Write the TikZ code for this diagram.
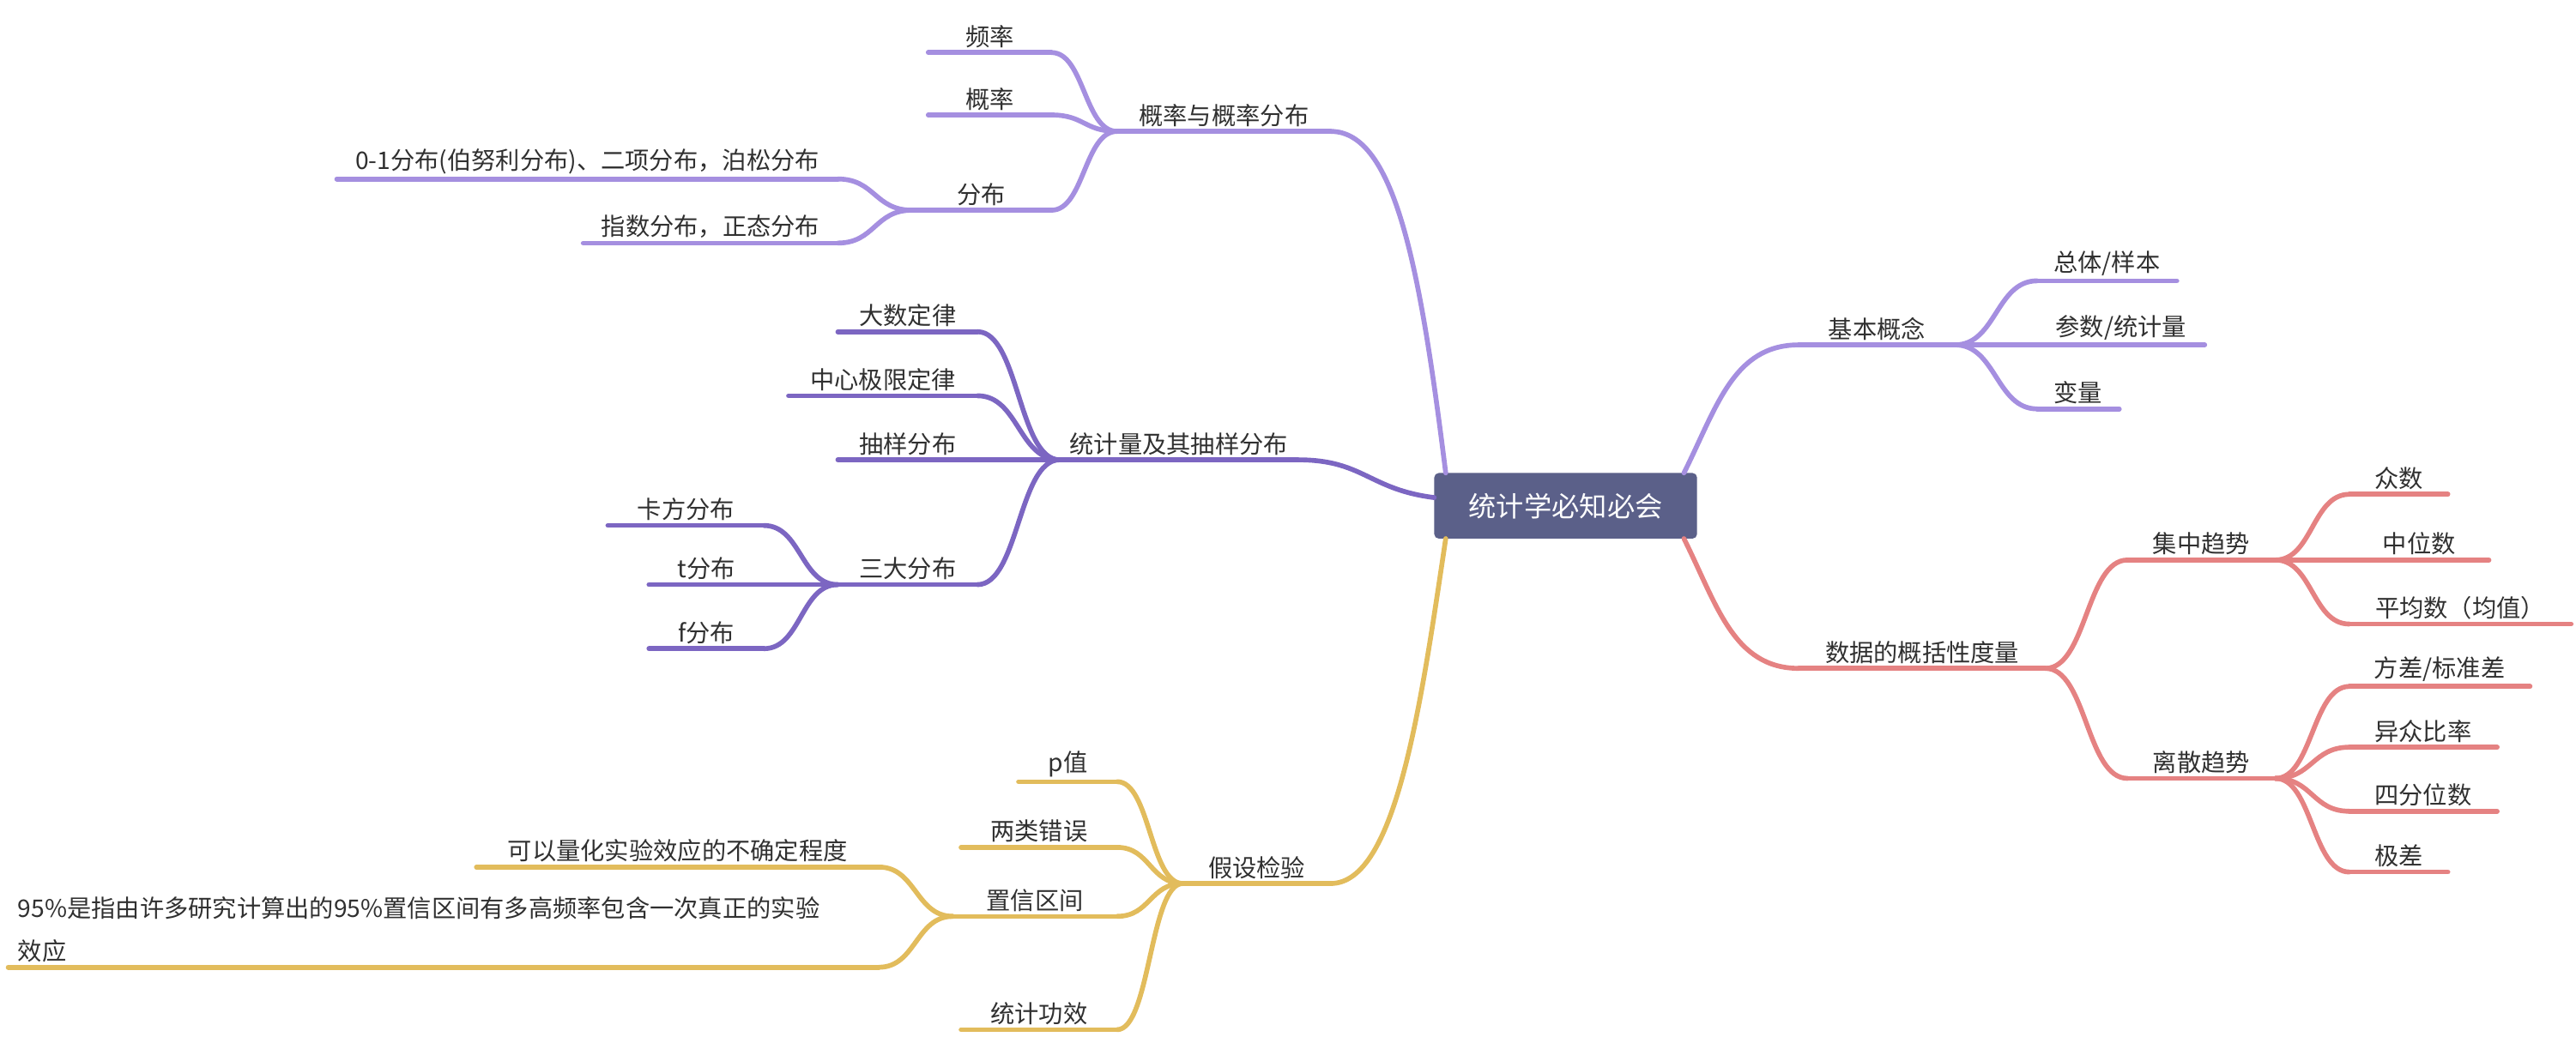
\documentclass[tikz,border=0pt]{standalone}
\usepackage{fontspec}
\setmainfont{Noto Sans CJK SC}
\usetikzlibrary{calc}
\definecolor{pa}{HTML}{A58FE0}
\definecolor{pb}{HTML}{7C66C2}
\definecolor{ye}{HTML}{E2BC5C}
\definecolor{rd}{HTML}{E58282}
\definecolor{rootc}{HTML}{5B6089}
\definecolor{tx}{HTML}{303030}
\newcommand\mmn[6]{\coordinate (#1L) at (#2,#4); \coordinate (#1R) at (#3,#4);
  \draw[#5,br] (#1L)--(#1R);
  \node[lbl,anchor=south] (#1) at ($(#1L)!0.5!(#1R)$) {#6};}
\newcommand\mmc[3]{\path ($(#2)!0.5!(#3)$) coordinate (mid);
  \draw[#1,br] (#2) .. controls (mid |- #2) and (mid |- #3) .. (#3);}
\begin{document}
\begin{tikzpicture}[x=0.05cm,y=-0.05cm,
  br/.style={line width=4.2pt,line cap=round},
  lbl/.style={font=\fontsize{21}{26}\selectfont,text=tx,inner sep=4pt}]
\useasboundingbox (0,0) rectangle (1568,631);
\node[fill=rootc,rounded corners=4pt,minimum width=8cm,minimum height=2cm,text=white,font=\fontsize{24}{28}\selectfont] (r) at (953,308) {统计学必知必会};
\coordinate (rTL) at (880,288); \coordinate (rTR) at (1025,288);
\coordinate (rBL) at (880,328); \coordinate (rBR) at (1025,328);
\coordinate (rML) at (873,303);
% right top
\mmn{jb}{1095}{1190}{210}{pa}{基本概念}
\draw[pa,br] (rTR) .. controls ($(rTR)+(20,-40)$) and ($(jbL)+(-40,0)$) .. (jbL);
\mmn{zt}{1240}{1325}{171}{pa}{总体/样本}
\mmn{cs}{1240}{1342}{210}{pa}{参数/统计量}
\mmn{bl}{1240}{1290}{249}{pa}{变量}
\mmc{pa}{jbR}{ztL}\mmc{pa}{jbR}{csL}\mmc{pa}{jbR}{blL}
% right bottom
\mmn{sj}{1095}{1245}{407}{rd}{数据的概括性度量}
\draw[rd,br] (rBR) .. controls ($(rBR)+(20,40)$) and ($(sjL)+(-40,0)$) .. (sjL);
\mmn{jz}{1295}{1385}{341}{rd}{集中趋势}
\mmn{ls}{1295}{1385}{474}{rd}{离散趋势}
\mmc{rd}{sjR}{jzL}\mmc{rd}{sjR}{lsL}
\mmn{zs}{1430}{1490}{301}{rd}{众数}
\mmn{zw}{1430}{1515}{341}{rd}{中位数}
\mmn{pj}{1430}{1565}{380}{rd}{平均数（均值）}
\mmc{rd}{jzR}{zsL}\mmc{rd}{jzR}{zwL}\mmc{rd}{jzR}{pjL}
\mmn{fc}{1430}{1540}{418}{rd}{方差/标准差}
\mmn{yz}{1430}{1520}{455}{rd}{异众比率}
\mmn{sf}{1430}{1520}{494}{rd}{四分位数}
\mmn{jc}{1430}{1490}{531}{rd}{极差}
\mmc{rd}{lsR}{fcL}\mmc{rd}{lsR}{yzL}\mmc{rd}{lsR}{sfL}\mmc{rd}{lsR}{jcL}
% left top
\mmn{gl}{680}{810}{80}{pa}{概率与概率分布}
\draw[pa,br] (rTL) .. controls ($(rTL)+(-15,-120)$) and ($(glR)+(40,0)$) .. (glR);
\mmn{pl}{565}{640}{32}{pa}{频率}
\mmn{gv}{565}{640}{70}{pa}{概率}
\mmn{fb}{555}{640}{128}{pa}{分布}
\mmc{pa}{glL}{plR}\mmc{pa}{glL}{gvR}\mmc{pa}{glL}{fbR}
\mmn{bn}{205}{510}{109}{pa}{0-1分布(伯努利分布)、二项分布，泊松分布}
\mmn{zf}{355}{510}{148}{pa}{指数分布，正态分布}
\mmc{pa}{fbL}{bnR}\mmc{pa}{fbL}{zfR}
% left middle
\mmn{tj}{645}{790}{280}{pb}{统计量及其抽样分布}
\draw[pb,br] (rML) .. controls ($(rML)+(-40,-5)$) and ($(tjR)+(40,0)$) .. (tjR);
\mmn{ds}{510}{595}{202}{pb}{大数定律}
\mmn{zx}{480}{595}{241}{pb}{中心极限定律}
\mmn{cy}{510}{595}{280}{pb}{抽样分布}
\mmn{sd}{510}{595}{356}{pb}{三大分布}
\mmc{pb}{tjL}{dsR}\mmc{pb}{tjL}{zxR}\mmc{pb}{tjL}{cyR}\mmc{pb}{tjL}{sdR}
\mmn{kf}{370}{465}{320}{pb}{卡方分布}
\mmn{tf}{395}{465}{356}{pb}{t分布}
\mmn{ff}{395}{465}{395}{pb}{f分布}
\mmc{pb}{sdL}{kfR}\mmc{pb}{sdL}{tfR}\mmc{pb}{sdL}{ffR}
% left bottom
\mmn{jy}{720}{810}{538}{ye}{假设检验}
\draw[ye,br] (rBL) .. controls ($(rBL)+(-15,100)$) and ($(jyR)+(40,0)$) .. (jyR);
\mmn{pz}{620}{680}{476}{ye}{p值}
\mmn{lc}{585}{680}{516}{ye}{两类错误}
\mmn{zq}{580}{680}{558}{ye}{置信区间}
\mmn{gx}{585}{680}{627}{ye}{统计功效}
\mmc{ye}{jyL}{pzR}\mmc{ye}{jyL}{lcR}\mmc{ye}{jyL}{zqR}\mmc{ye}{jyL}{gxR}
\mmn{kl}{290}{535}{528}{ye}{可以量化实验效应的不确定程度}
\coordinate (nnL) at (5,589); \coordinate (nnR) at (535,589);
\draw[ye,br] (nnL)--(nnR);
\node[lbl,anchor=south west,align=left,font=\fontsize{21}{37}\selectfont] (nn) at (8,589) {95\%是指由许多研究计算出的95\%置信区间有多高频率包含一次真正的实验\\效应};
\mmc{ye}{zqL}{klR}\mmc{ye}{zqL}{nnR}
\end{tikzpicture}
\end{document}
